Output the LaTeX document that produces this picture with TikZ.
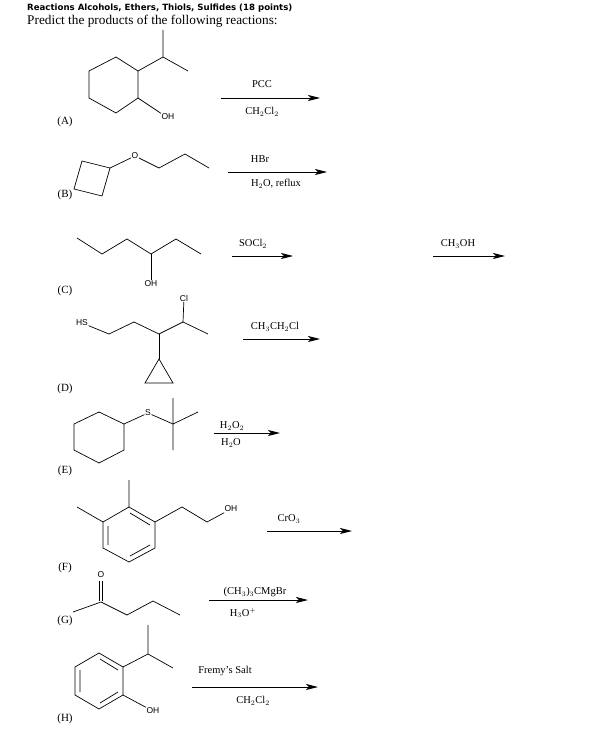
\documentclass[tikz,border=0pt]{standalone}
\usepackage{fontspec}
\setmainfont{Liberation Serif}
\setsansfont{Liberation Sans}
\newfontfamily\hdfont{DejaVu Sans}
\usetikzlibrary{arrows.meta}
\begin{document}
\begin{tikzpicture}[x=1pt,y=-1pt,
  bond/.style={line width=0.7pt},
  rxn/.style={line width=0.9pt,-{Stealth[length=12pt,width=6pt,inset=3pt]}},
  reag/.style={font=\fontsize{10.5}{11}\selectfont,inner sep=0pt},
  atom/.style={font=\sffamily\fontsize{8.5}{9}\selectfont,inner sep=0.5pt,fill=white},
  lab/.style={font=\fontsize{11}{12}\selectfont,inner sep=0pt}]
\useasboundingbox (0,0) rectangle (614,754);
\node[anchor=west,inner sep=0pt,font=\hdfont\bfseries\fontsize{8.6}{10}\selectfont] (hd) at (27,8) {Reactions Alcohols, Ethers, Thiols, Sulfides (18 points)};
\node[anchor=west,inner sep=0pt,font=\fontsize{13.3}{15}\selectfont] (hd2) at (27,21) {Predict the products of the following reactions:};
% (A)
\draw[bond] (116,57)--(138,71)--(138,98)--(116,113)--(89,98)--(89,71)--cycle;
\draw[bond] (138,71)--(163,57)--(163,30) (163,57)--(188,71);
\node[atom] (ohA) at (168,117) {OH};
\draw[bond] (138,98)--(ohA.north west);
\draw[rxn] (221,98)--(320,98);
\node[reag] at (262,84) {PCC};
\node[reag] at (262,112) {CH$_2$Cl$_2$};
\node[lab] at (65,122) {(A)};
% (B)
\draw[bond] (82,161)--(110,168)--(102,196)--(74,189)--cycle;
\node[atom] (oB) at (135,156) {O};
\draw[bond] (110,168)--(oB)--(159,168)--(185,154)--(209,168);
\draw[rxn] (228,172)--(327,172);
\node[reag] at (260,159) {HBr};
\node[reag] at (276,184) {H$_2$O, reflux};
\node[lab] at (65,195) {(B)};
% (C)
\draw[bond] (77,238)--(102,254)--(127,239)--(151,254)--(176,239)--(201,254);
\node[atom] (ohC) at (151,284) {OH};
\draw[bond] (151,254)--(ohC);
\draw[rxn] (232,256)--(293,256);
\node[reag] at (253,244) {SOCl$_2$};
\draw[rxn] (433,256)--(505,256);
\node[reag] at (458,244) {CH$_3$OH};
\node[lab] at (65,291) {(C)};
% (D)
\node[atom] (hs) at (82,323) {HS};
\draw[bond] (hs)--(109,334)--(134,322)--(159,334)--(183,322)--(208,334);
\node[atom] (cl) at (184,298) {Cl};
\draw[bond] (183,322)--(cl);
\draw[bond] (159,334)--(159,359);
\draw[bond] (159,359)--(145,383)--(173,383)--cycle;
\draw[rxn] (243,339)--(320,339);
\node[reag] at (275,327) {CH$_3$CH$_2$Cl};
\node[lab] at (65,389) {(D)};
% (E)
\draw[bond] (74,424)--(99,412)--(124,424)--(124,450)--(99,463)--(74,450)--cycle;
\node[atom] (s) at (148,413) {S};
\draw[bond] (124,424)--(s)--(173,424);
\draw[bond] (173,398)--(173,450) (173,424)--(198,412);
\draw[rxn] (214,433)--(280,433);
\node[reag] at (232,426) {H$_2$O$_2$};
\node[reag] at (231,443) {H$_2$O};
\node[lab] at (65,471) {(E)};
% (F)
\draw[bond] (129,507)--(155,522)--(155,548)--(129,562)--(103,548)--(103,522)--cycle;
\draw[bond] (130,513)--(150,525) (108,526)--(108,545) (150,545)--(130,556);
\draw[bond] (129,507)--(129,480) (103,522)--(77,507);
\node[atom] (ohF) at (231,509) {OH};
\draw[bond] (155,522)--(182,507)--(207,522)--(ohF);
\draw[rxn] (267,531)--(352,531);
\node[reag] at (289,519) {CrO$_3$};
\node[lab] at (65,568) {(F)};
% (G)
\node[atom] (oG) at (101,575) {O};
\draw[bond] (73,612)--(101,602)--(127,615)--(153,601)--(180,615);
\draw[bond] (99.5,601)--(99.5,581) (102.5,601)--(102.5,581);
\draw[rxn] (209,600)--(308,600);
\node[reag] at (255,592) {(CH$_3$)$_3$CMgBr};
\node[reag] at (243,613) {H$_3$O$^+$};
\node[lab] at (65,621) {(G)};
% (H)
\draw[bond] (99,653)--(123,667)--(123,695)--(99,709)--(75,695)--(75,667)--cycle;
\draw[bond] (100,659)--(118,670) (80,670)--(80,692) (118,692)--(100,703);
\draw[bond] (123,667)--(148,654)--(148,625) (148,654)--(173,668);
\node[atom] (ohH) at (153,711) {OH};
\draw[bond] (123,695)--(ohH.north west);
\draw[rxn] (192,687)--(318,687);
\node[reag] at (225,671) {Fremy's Salt};
\node[reag] at (253,701) {CH$_2$Cl$_2$};
\node[lab] at (65,719) {(H)};
\end{tikzpicture}
\end{document}
